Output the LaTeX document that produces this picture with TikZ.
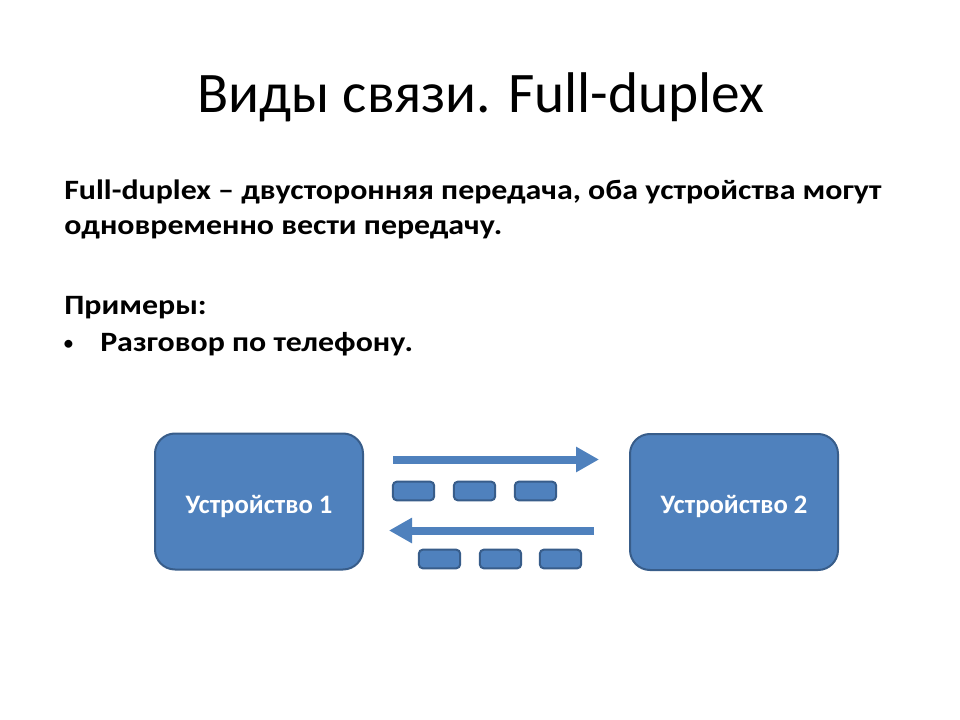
\documentclass[tikz,border=0pt]{standalone}
\usepackage{fontspec}
\setmainfont{Carlito}
\newfontfamily\bodyfont[FakeStretch=1.14]{Carlito}
\usetikzlibrary{arrows.meta}
\definecolor{boxfill}{HTML}{4F81BD}
\definecolor{boxline}{HTML}{385D8A}
\tikzset{
  device/.style={draw=boxline, line width=1.5pt, fill=boxfill, rounded corners=15pt,
    minimum width=156pt, minimum height=102pt, inner sep=0pt,
    text height=17.25pt, text depth=0pt,
    text=white, font=\fontsize{20}{24}\selectfont\bfseries},
  packet/.style={draw=boxline, line width=1.5pt, fill=boxfill, rounded corners=3pt,
    minimum width=31pt, minimum height=14pt, inner sep=0pt},
  flow/.style={draw=boxfill, line width=6pt, -{Triangle[length=17.25pt,width=18pt]}},
  bodytext/.style={anchor=base west, inner sep=0pt, font=\bodyfont\fontsize{21}{25}\selectfont\bfseries},
  bullettext/.style={anchor=base west, inner sep=0pt, font=\fontsize{14}{16}\selectfont\bfseries},
  titletext/.style={anchor=base, inner sep=0pt, font=\fontsize{43}{50}\selectfont}
}
\begin{document}
\begin{tikzpicture}[x=0.75pt,y=-0.75pt]
\useasboundingbox[fill=white] (0,0) rectangle (960,720);
\node[titletext] (title) at (481,112.7) {Виды связи. Full-duplex};
\node[bodytext] (l1) at (64,199.8) {Full-duplex – двусторонняя передача, оба устройства могут};
\node[bodytext] (l2) at (64,235) {одновременно вести передачу.};
\node[bodytext] (l3) at (64,315) {Примеры:};
\node[bullettext] (bul) at (63.5,349.8) {•};
\node[bodytext] (l4) at (100,351.7) {Разговор по телефону.};
\node[device] (d1) at (259,501.5) {Устройство 1};
\node[device] (d2) at (734,502) {Устройство 2};
\node[packet] (p1) at (413.5,491) {};
\node[packet] (p2) at (474.5,491) {};
\node[packet] (p3) at (535.5,491) {};
\node[packet] (p4) at (439.5,559) {};
\node[packet] (p5) at (500.5,559) {};
\node[packet] (p6) at (560.5,559) {};
\coordinate (a1s) at (393,459.5);
\coordinate (a1e) at (599,459.5);
\coordinate (a2s) at (594,530.5);
\coordinate (a2e) at (389,530.5);
\draw[flow] (a1s) -- (a1e);
\draw[flow] (a2s) -- (a2e);
\end{tikzpicture}
\end{document}
